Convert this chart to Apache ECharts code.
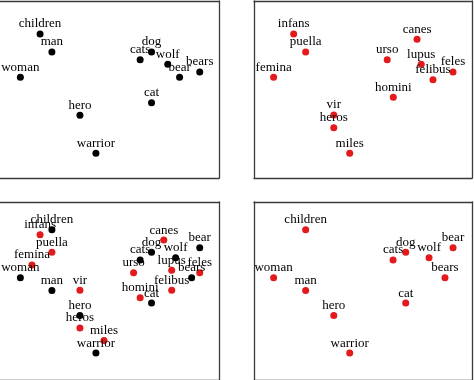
<!DOCTYPE html>
<html><head><meta charset="utf-8">
<script src="https://cdn.jsdelivr.net/npm/echarts@6/dist/echarts.min.js"></script>
<style>html,body{margin:0;padding:0;background:#fff}#c{width:474px;height:380px}</style>
</head><body><div id="c"></div>
<script>
// Panel 1 (top-left): English words, black
const tlWords = ['children','man','woman','hero','warrior','cats','dog','wolf','bear','bears','cat'];
const tlX = [18.3, 23.7, 9.3, 36.5, 43.8, 64.0, 69.2, 76.6, 82.0, 91.2, 69.2];
const tlY = [81.4, 71.2, 56.9, 35.4, 14.0, 66.8, 71.2, 64.2, 56.9, 59.9, 42.5];

// Panel 2 (top-right): Latin words, red
const trWords = ['infans','puella','femina','vir','heros','miles','urso','canes','lupus','feles','felibus','homini'];
const trX = [18.2, 23.7, 9.0, 36.6, 36.6, 43.9, 61.1, 74.8, 76.7, 91.3, 82.1, 63.9];
const trY = [81.4, 71.2, 56.9, 35.6, 28.4, 14.0, 66.8, 78.4, 64.2, 59.9, 55.5, 45.6];

// Panel 3 (bottom-left): English (black) and Latin (red) together
const blEnWords = ['children','woman','man','hero','warrior','bear','dog','cats','wolf','bears','cat'];
const blEnX = [23.7, 9.3, 23.7, 36.5, 43.8, 91.2, 69.2, 64.0, 80.2, 87.5, 69.2];
const blEnY = [84.4, 57.4, 50.3, 36.3, 15.1, 74.3, 71.7, 67.4, 68.7, 57.4, 43.2];
const blLaWords = ['infans','puella','femina','vir','heros','miles','canes','lupus','urso','feles','felibus','homini'];
const blLaX = [18.3, 23.7, 14.6, 36.5, 36.5, 47.5, 74.8, 78.4, 61.0, 91.2, 78.4, 64.0];
const blLaY = [81.6, 71.7, 64.6, 50.4, 29.2, 22.2, 78.6, 61.6, 60.3, 60.2, 50.4, 46.2];

// Panel 4 (bottom-right): English words, red
const brWords = ['children','woman','man','hero','warrior','cats','dog','wolf','bear','bears','cat'];
const brX = [23.7, 9.0, 23.7, 36.6, 43.9, 63.8, 69.6, 80.3, 91.3, 87.6, 69.6];
const brY = [84.4, 57.4, 50.3, 36.3, 15.1, 67.4, 71.7, 68.7, 74.3, 57.4, 43.2];

const BLACK = '#000000', RED = '#e3191c';
const FONT = '"Liberation Serif", "Times New Roman", serif';
function frame(show){ return {show:show, onZero:false, lineStyle:{color:'#3a3a3a', width:1.3}}; }

function pts(words, xs, ys){ return words.map((w,i)=>({value:[xs[i], ys[i]], name:w})); }

// panel boxes; left panels have their left edge outside the visible crop
const panels = [
  {left:0, top:1, width:219, height:177, leftEdge:false},
  {left:254, top:1, width:218, height:177, leftEdge:true},
  {left:0, top:202, width:219, height:179, leftEdge:false},
  {left:254, top:202, width:218, height:179, leftEdge:true}
];
const grids = panels.map(p => ({left:p.left, top:p.top, width:p.width, height:p.height, show:false}));

const axisBase = {type:'value', min:0, max:100, axisTick:{show:false}, axisLabel:{show:false}, splitLine:{show:false}};
const xAxes = [], yAxes = [];
panels.forEach((p,i)=>{
  xAxes.push(Object.assign({gridIndex:i, position:'bottom', axisLine:frame(true)}, axisBase));
  xAxes.push(Object.assign({gridIndex:i, position:'top', axisLine:frame(true)}, axisBase));
  yAxes.push(Object.assign({gridIndex:i, position:'left', axisLine:frame(p.leftEdge)}, axisBase));
  yAxes.push(Object.assign({gridIndex:i, position:'right', axisLine:frame(true)}, axisBase));
});

function series(idx, data, color){
  return {
    type:'scatter', xAxisIndex:idx*2, yAxisIndex:idx*2, data:data,
    symbol:'circle', symbolSize:7, itemStyle:{color:color, opacity:1},
    label:{show:true, position:'top', distance:0, formatter:'{b}', color:'#000',
           fontFamily:FONT, fontSize:13},
    labelLayout:{hideOverlap:false},
    animation:false, silent:true
  };
}

const chart = echarts.init(document.getElementById('c'), null, {renderer:'canvas'});
chart.setOption({
  animation:false,
  grid:grids, xAxis:xAxes, yAxis:yAxes,
  series:[
    series(0, pts(tlWords, tlX, tlY), BLACK),
    series(1, pts(trWords, trX, trY), RED),
    series(2, pts(blEnWords, blEnX, blEnY), BLACK),
    series(2, pts(blLaWords, blLaX, blLaY), RED),
    series(3, pts(brWords, brX, brY), RED)
  ]
});
</script></body></html>
